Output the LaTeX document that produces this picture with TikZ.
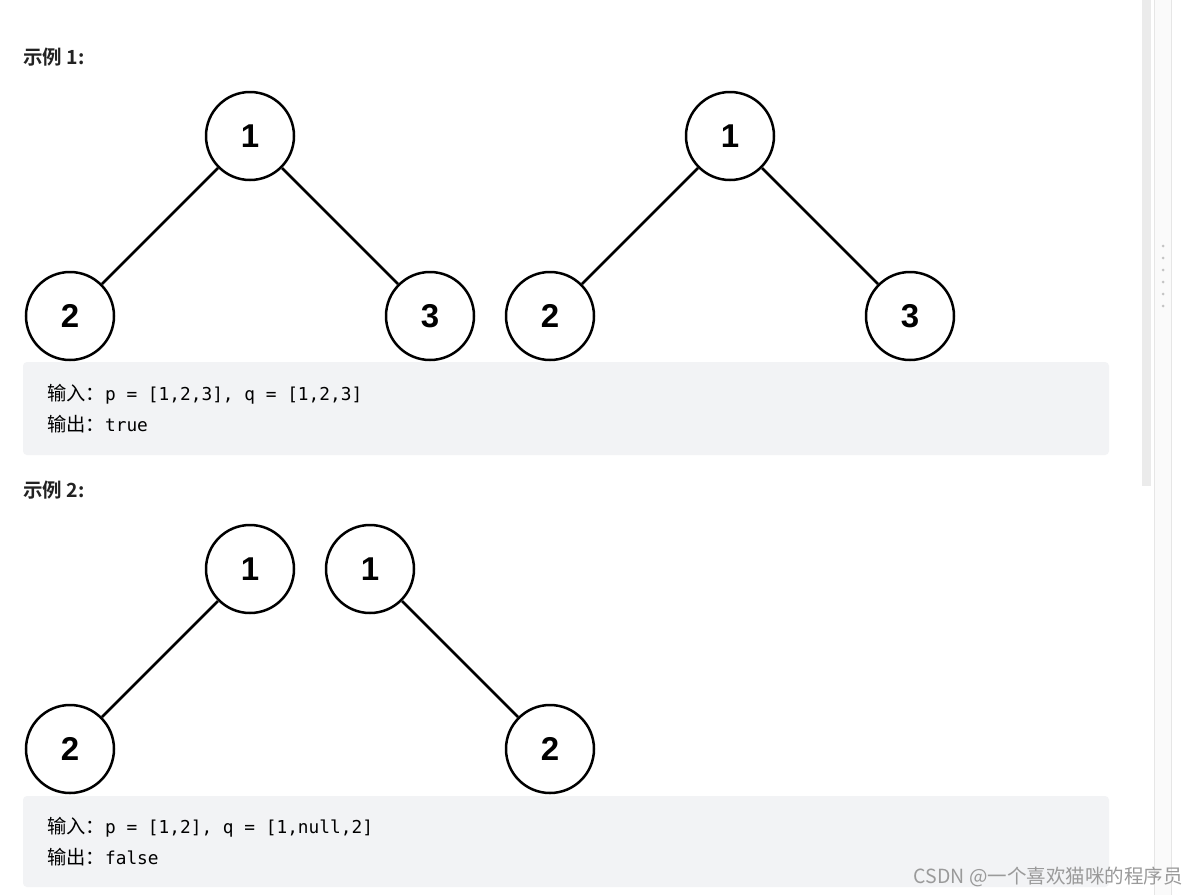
\documentclass[tikz,border=0pt]{standalone}
\usepackage{fontspec}
\setmainfont{Liberation Sans}
\newfontfamily\cjk{Noto Sans CJK SC}
\newfontfamily\cjkb{Noto Sans CJK SC}[BoldFont={* Bold}]
\newfontfamily\monof{DejaVu Sans Mono}
\newfontfamily\numf{Liberation Sans}
\definecolor{codebg}{HTML}{F2F3F5}
\definecolor{sbar}{HTML}{EBEBEB}
\definecolor{panelbg}{HTML}{FAFAFA}
\definecolor{panelline}{HTML}{E6E6E6}
\definecolor{dotc}{HTML}{C4C4C4}
\definecolor{wm}{HTML}{9A9A9A}
\definecolor{txt}{HTML}{222222}
\tikzset{
  tnode/.style={circle, draw=black, line width=2.5pt, fill=white, minimum size=88pt, inner sep=0pt,
    font=\numf\fontsize{33}{33}\selectfont\bfseries},
  tedge/.style={line width=2.5pt, black},
  codebox/.style={fill=codebg, rounded corners=4pt},
  heading/.style={anchor=base west, inner sep=0pt, text=txt, font=\cjkb\fontsize{19.5}{21}\selectfont\bfseries},
  codeline/.style={anchor=base west, inner sep=0pt, text=black, font=\fontsize{17.8}{20}\selectfont},
  cjkpart/.style={},
}
\newcommand{\cjklab}[1]{{\cjk\fontsize{19.3}{20}\selectfont #1}}
\begin{document}
\begin{tikzpicture}[x=1pt, y=-1pt]
\useasboundingbox (0,0) rectangle (1200,895);
\fill[white] (0,0) rectangle (1200,895);
% right side panels
\fill[sbar] (1142,0) rectangle (1151,486);
\fill[panelbg] (1154,0) rectangle (1171,895);
\draw[panelline, line width=0.8pt] (1154,0) -- (1154,895);
\draw[panelline, line width=0.8pt] (1171,0) -- (1171,895);
\foreach \yy in {246,258,270,282,294,306} {\fill[dotc] (1163,\yy) circle (1.5);}

% headings
\node[heading] (h1) at (23,64) {示例 1:};
\node[heading] (h2) at (23,497) {示例 2:};

% example 1 trees
\node[tnode] (p1) at (250,136) {1};
\node[tnode] (p2) at (70,316) {2};
\node[tnode] (p3) at (430,316) {3};
\node[tnode] (q1) at (730,136) {1};
\node[tnode] (q2) at (550,316) {2};
\node[tnode] (q3) at (910,316) {3};
\draw[tedge] (p1) -- (p2);
\draw[tedge] (p1) -- (p3);
\draw[tedge] (q1) -- (q2);
\draw[tedge] (q1) -- (q3);

% example 2 trees
\node[tnode] (r1) at (250,569) {1};
\node[tnode] (r2) at (70,749) {2};
\node[tnode] (s1) at (370,569) {1};
\node[tnode] (s2) at (550,749) {2};
\draw[tedge] (r1) -- (r2);
\draw[tedge] (s1) -- (s2);

% code boxes
\fill[codebox] (23,362) rectangle (1109,455);
\fill[codebox] (23,796) rectangle (1109,887);
\node[codeline] (c1) at (47,400) {\cjklab{输入：}{\monof p = [1,2,3], q = [1,2,3]}};
\node[codeline] (c2) at (47,431) {\cjklab{输出：}{\monof true}};
\node[codeline] (c3) at (47,833) {\cjklab{输入：}{\monof p = [1,2], q = [1,null,2]}};
\node[codeline] (c4) at (47,864) {\cjklab{输出：}{\monof false}};

% watermark
\node[anchor=base east, inner sep=0pt, text=wm, font=\cjk\fontsize{19.5}{20}\selectfont] (wmk) at (1183,883) {CSDN @一个喜欢猫咪的程序员};
\end{tikzpicture}
\end{document}
